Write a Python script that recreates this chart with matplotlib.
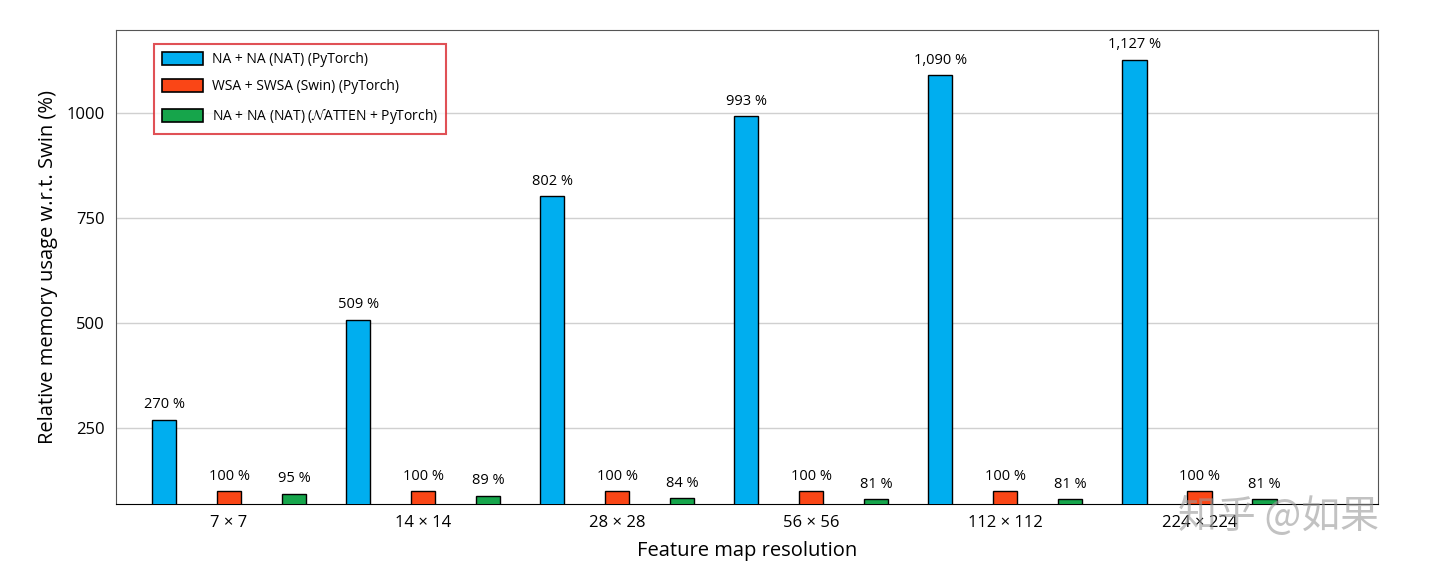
import matplotlib
matplotlib.use("Agg")
from matplotlib import pyplot as plt
from matplotlib.patches import Patch
import numpy as np

plt.rcParams['font.family'] = ['Open Sans', 'DejaVu Sans']
plt.rcParams['mathtext.fontset'] = 'cm'

# data
resolutions = ["7 × 7", "14 × 14", "28 × 28", "56 × 56", "112 × 112", "224 × 224"]
nat_pytorch = [270, 509, 802, 993, 1090, 1127]
swin_pytorch = [100, 100, 100, 100, 100, 100]
nat_natten = [95, 89, 84, 81, 81, 81]

series_names = ["NA + NA (NAT) (PyTorch)",
                "WSA + SWSA (Swin) (PyTorch)",
                r"NA + NA (NAT) ($\mathcal{N}$ATTEN + PyTorch)"]
colors = ["#00aeef", "#fa4616", "#16a54b"]

fig = plt.figure(figsize=(14.4, 5.73), dpi=100)
ax = fig.add_axes([0.0806, 0.1204, 0.8764, 0.8272])

x = np.arange(len(resolutions))
offset = 0.335
width = 0.124
for i, (vals, col) in enumerate(zip([nat_pytorch, swin_pytorch, nat_natten], colors)):
    pos = x + (i - 1) * offset
    bars = ax.bar(pos, vals, width, color=col, edgecolor="black", linewidth=1, zorder=3)
    for b, v in zip(bars, vals):
        ax.text(b.get_x() + b.get_width() / 2, v + 18, f"{v:,} %",
                ha="center", va="bottom", fontsize=10.5)

ax.set_xlim(-0.582, 5.92)
ax.set_ylim(70, 1198)
ax.set_yticks([250, 500, 750, 1000])
ax.set_xticks(x)
ax.set_xticklabels(resolutions)
ax.tick_params(axis="both", length=0, labelsize=12, pad=8)
ax.yaxis.grid(True, color="#d0d0d0", linewidth=1, zorder=0)

for s in ["left", "top", "right"]:
    ax.spines[s].set_color("#555555")
ax.spines["bottom"].set_color("black")

ax.set_xlabel("Feature map resolution", fontsize=14.5, labelpad=7)
ax.set_ylabel("Relative memory usage w.r.t. Swin (%)", fontsize=14.5, labelpad=6)

handles = [Patch(facecolor=c, edgecolor="black", linewidth=1.2) for c in colors]
leg = ax.legend(handles, series_names, loc="upper left", bbox_to_anchor=(0.030, 0.970),
                borderaxespad=0, fontsize=10, frameon=True, fancybox=False,
                handlelength=3.0, handleheight=1.1, handletextpad=0.6,
                labelspacing=0.85, borderpad=0.55)
leg.get_frame().set_edgecolor("#d9262c")
leg.get_frame().set_linewidth(1.5)

# watermark
fig.text(0.818, 0.098, "知乎 @如果", fontsize=28, color="#9a9a9a", alpha=0.6,
         family=['Noto Sans CJK SC', 'DejaVu Sans'], ha="left", va="center")

fig.savefig("out.png", dpi=100)
